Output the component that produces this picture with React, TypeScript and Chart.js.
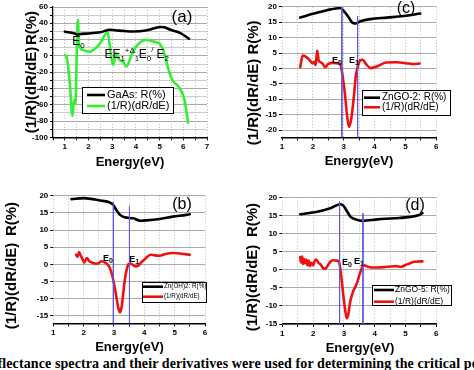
import React, { useEffect, useRef } from "react";
import { Chart, registerables } from "chart.js";

Chart.register(...registerables);

const FONT = "'Liberation Sans', Arial, sans-serif";

// ---------------- (a) GaAs ----------------
const aREnergy = [1.0, 1.2, 1.39, 1.53, 1.7, 2.0, 2.49, 2.91, 3.26, 3.6, 3.9, 4.47, 5.03, 5.2, 5.46, 5.88, 6.24];
const aRValue = [29.7, 28.8, 27.7, 26, 27, 27.5, 29, 32, 31, 30.3, 30, 31.5, 35.5, 35, 32, 28, 21];
const aDEnergy = [1.0, 1.05, 1.11, 1.21, 1.32, 1.39, 1.45, 1.5, 1.55, 1.6, 1.8, 2.0, 2.2, 2.5, 2.8, 2.9, 2.98, 3.05, 3.15, 3.3, 3.45, 3.6, 3.8, 4.0, 4.4, 4.75, 5.0, 5.2, 5.35, 5.5, 5.85, 6.05, 6.2];
const aDValue = [1, 0, -7, -33.7, -73.8, -54, -58, 0, 44, 13, 7, 5, 7, 16, 29, 12, -5, -11, 3.5, -5, -7, -13, 0, 11, 19.5, 17.5, 15, 3, -14, -27.5, -40, -54, -82];

// ---------------- (c) ZnGO-2 ----------------
const cREnergy = [1.59, 2.03, 2.46, 2.89, 3.0, 3.16, 3.27, 3.38, 3.54, 3.86, 4.4, 4.94, 5.48];
const cRValue = [16.5, 17.8, 18.9, 19.6, 18.7, 16.6, 14.9, 14.6, 15.3, 16, 16.5, 17, 17.8];
const cDEnergy = [1.59, 1.67, 1.81, 1.9, 2.0, 2.04, 2.09, 2.14, 2.19, 2.29, 2.4, 2.5, 2.66, 2.82, 2.9, 2.96, 3.04, 3.09, 3.17, 3.25, 3.33, 3.39, 3.44, 3.53, 3.61, 3.74, 3.87, 4.06, 4.38, 4.7, 5.03, 5.24, 5.46];
const cDValue = [0.4, 4.2, 3.5, 2.6, 1.6, 2.2, 1, 5.8, 2.6, 1.8, 0.4, 1.5, 1.8, 1.6, 1, -2.3, -8.3, -13.6, -19, -16, -9, -2.6, 0, 2.6, 2.8, 1.2, 0.1, 0.6, 1.9, 2, 1.7, 1.4, 1.6];
const cMarkerEnergy = [2.94, 3.45];
const cMarkerTop = [20, 17];

// ---------------- (b) Zn(OH)2 ----------------
const bREnergy = [1.6, 2.0, 2.55, 2.87, 2.98, 3.08, 3.2, 3.35, 3.64, 3.86, 4.07, 4.5, 4.94, 5.38, 5.5];
const bRValue = [19, 19.3, 18.6, 18, 17.3, 15.8, 14.4, 13.7, 13.4, 12.7, 12.8, 13.2, 13.9, 14.4, 14.6];
const bDEnergy = [1.75, 1.8, 1.85, 1.9, 1.95, 2.02, 2.1, 2.2, 2.3, 2.45, 2.6, 2.75, 2.85, 2.95, 3.05, 3.15, 3.2, 3.26, 3.35, 3.45, 3.52, 3.6, 3.7, 3.8, 3.9, 4.05, 4.2, 4.35, 4.5, 4.7, 4.9, 5.1, 5.3, 5.5];
const bDValue = [2.8, 2.2, 3.6, 2.6, 1.8, 0.5, 1.8, 0.8, 0.4, 0.2, 0.9, 0.2, -0.8, -3.5, -8, -13, -14, -12, -5, -0.5, 0.2, 0, -0.6, -0.4, 0.6, 1.8, 2.8, 2.6, 2.5, 3, 3.3, 3.2, 3, 2.8];
const bMarkerEnergy = [2.98, 3.51];
const bMarkerTop = [18.2, 16.8];

// ---------------- (d) ZnGO-5 ----------------
const dREnergy = [1.58, 2.13, 2.56, 2.89, 2.98, 3.11, 3.22, 3.38, 3.6, 4.09, 4.63, 5.17, 5.44, 5.55];
const dRValue = [15.3, 16, 17, 18.1, 17.7, 16, 14.6, 13.9, 13.5, 13.9, 14.2, 14.6, 15.1, 15.6];
const dDEnergy = [1.58, 1.61, 1.64, 1.67, 1.7, 1.74, 1.78, 1.82, 1.86, 1.9, 1.95, 2.0, 2.05, 2.1, 2.18, 2.25, 2.33, 2.4, 2.48, 2.56, 2.65, 2.75, 2.83, 2.88, 2.93, 2.98, 3.04, 3.09, 3.14, 3.2, 3.3, 3.42, 3.52, 3.6, 3.67, 3.75, 3.9, 4.1, 4.3, 4.5, 4.7, 4.85, 5.0, 5.15, 5.3, 5.55];
const dDValue = [3.5, 2, 3.6, 1.6, 3, 1.8, 2.8, 1.2, 2.5, 1, 1.9, 1.2, 2.4, 2.8, 1.8, 1.4, 0.4, 0.3, 1.2, 2.2, 2.6, 2.5, 2.3, 0.5, -3, -7, -11, -13.4, -12.5, -9, -6, -3.8, -1, 0.8, 1.2, 0.9, 0.6, 0.6, 0.7, 0.9, 1, 0.8, 1.3, 1.8, 2.2, 2.3];
const dMarkerEnergy = [2.86, 3.62];
const dMarkerTop = [18.8, 15.6];

// ---------------- tick labels ----------------
const aXLabels = [1, 2, 3, 4, 5, 6, 7];
const aYLabels = [60, 40, 20, 0, -20, -40, -60, -80, -100];
const xLabels = [1, 2, 3, 4, 5, 6];
const cYLabels = [20, 15, 10, 5, 0, -5, -10, -15, -20];
const bdYLabels = [20, 15, 10, 5, 0, -5, -10, -15];

// legend names
const aNames = ["GaAs: R(%)", "(1/R)(dR/dE)"];
const bNames = ["Zn(OH)2: R(%)", "(1/R)(dR/dE)"];
const cNames = ["ZnGO-2: R(%)", "(1/R)(dR/dE)"];
const dNames = ["ZnGO-5: R(%)", "(1/R)(dR/dE)"];

type Run = { t: string; size: number; dy?: number; bold?: boolean };
type Peak = { x: number; y: number; runs: Run[] };
type Series = { e: number[]; v: number[]; color: string; width: number };
type Spec = {
  box: number[];
  area: number[];
  xr: number[];
  yr: number[];
  xStep: number;
  yStep: number;
  xLab: number[];
  yLab: number[];
  yBorder: boolean;
  series: Series[];
  markers?: { e: number[]; top: number[] };
  names: string[];
  legendBox: number[];
  legendFont: number;
  sample: number[];
  rows: number[];
  textX: number;
  label: string;
  labelPos: number[];
  labelSize: number;
  yTitle: number[];
  xTitle: number[];
  peaks: Peak[];
};

const BLACK = "#000000";
const RED = "#ee1111";
const GREEN = "#33ee33";
const BLUE = "#5a5ae6";

const E = (x: number, y: number, sub: string, size = 9): Peak => ({
  x,
  y,
  runs: [
    { t: "E", size, bold: true },
    { t: sub, size: size - 2, dy: 2, bold: true },
  ],
});

const specs: Spec[] = [
  {
    box: [0, 0, 237, 178],
    area: [53, 7, 207, 137.3],
    xr: [0.5, 7],
    yr: [-100, 60],
    xStep: 0.5,
    yStep: 10,
    xLab: aXLabels,
    yLab: aYLabels,
    yBorder: true,
    series: [
      { e: aREnergy, v: aRValue, color: BLACK, width: 2.6 },
      { e: aDEnergy, v: aDValue, color: GREEN, width: 2.6 },
    ],
    names: aNames,
    legendBox: [82, 87, 173, 113],
    legendFont: 11,
    sample: [87, 105],
    rows: [95, 106],
    textX: 107,
    label: "(a)",
    labelPos: [182, 17],
    labelSize: 17,
    yTitle: [32, 28, 90],
    xTitle: [130, 162],
    peaks: [
      { x: 1.31, y: 13.3, runs: [{ t: "E", size: 12 }, { t: "0", size: 8, dy: 3 }] },
      {
        x: 2.67,
        y: -2.6,
        runs: [
          { t: "E", size: 12 },
          { t: "E", size: 12 },
          { t: "1", size: 8, dy: 3 },
          { t: "+Δ", size: 8, dy: -5 },
          { t: "1", size: 7, dy: 3 },
          { t: "E", size: 12 },
          { t: "0", size: 8, dy: 3 },
          { t: "/", size: 8, dy: -6 },
        ],
      },
      { x: 4.87, y: -2.6, runs: [{ t: "E", size: 12 }, { t: "2", size: 8, dy: 3 }] },
    ],
  },
  {
    box: [237, 0, 237, 178],
    area: [282, 6, 436.3, 137.4],
    xr: [1, 6],
    yr: [-22.4, 20],
    xStep: 0.5,
    yStep: 5,
    xLab: xLabels,
    yLab: cYLabels,
    yBorder: false,
    series: [
      { e: cREnergy, v: cRValue, color: BLACK, width: 2.6 },
      { e: cDEnergy, v: cDValue, color: RED, width: 2.6 },
    ],
    markers: { e: cMarkerEnergy, top: cMarkerTop },
    names: cNames,
    legendBox: [362, 90, 450, 115],
    legendFont: 10,
    sample: [364, 380],
    rows: [97.7, 107.3],
    textX: 382,
    label: "(c)",
    labelPos: [406, 9],
    labelSize: 16,
    yTitle: [254, 37.5, 102],
    xTitle: [359, 161.5],
    peaks: [E(2.62, 1.6, "0"), E(3.17, 1.6, "1")],
  },
  {
    box: [0, 178, 237, 178],
    area: [53.3, 195.7, 205, 323.3],
    xr: [1, 6],
    yr: [-17.2, 20],
    xStep: 0.5,
    yStep: 5,
    xLab: xLabels,
    yLab: bdYLabels,
    yBorder: false,
    series: [
      { e: bREnergy, v: bRValue, color: BLACK, width: 2.6 },
      { e: bDEnergy, v: bDValue, color: RED, width: 2.6 },
    ],
    markers: { e: bMarkerEnergy, top: bMarkerTop },
    names: bNames,
    legendBox: [142, 282, 206, 302],
    legendFont: 6.3,
    sample: [143, 163],
    rows: [286.7, 296.7],
    textX: 164,
    label: "(b)",
    labelPos: [182, 205],
    labelSize: 16,
    yTitle: [12, 219, 286],
    xTitle: [129.5, 347.5],
    peaks: [E(2.64, 0.96, "0"), E(3.5, 0.7, "1")],
  },
  {
    box: [237, 178, 237, 178],
    area: [282.3, 197.3, 436.3, 324],
    xr: [1, 6],
    yr: [-15, 20],
    xStep: 0.5,
    yStep: 5,
    xLab: xLabels,
    yLab: bdYLabels,
    yBorder: false,
    series: [
      { e: dREnergy, v: dRValue, color: BLACK, width: 2.6 },
      { e: dDEnergy, v: dDValue, color: RED, width: 2.6 },
    ],
    markers: { e: dMarkerEnergy, top: dMarkerTop },
    names: dNames,
    legendBox: [372, 285, 451, 305],
    legendFont: 8.5,
    sample: [374, 394],
    rows: [290, 301.7],
    textX: 395,
    label: "(d)",
    labelPos: [415, 206],
    labelSize: 16,
    yTitle: [253, 220, 288],
    xTitle: [360, 348],
    peaks: [E(2.94, 1.3, "0"), E(3.33, 1.6, "1")],
  },
];

function stepValues(min: number, max: number, step: number): number[] {
  const out: number[] = [];
  const start = Math.ceil(min / step - 1e-9);
  const end = Math.floor(max / step + 1e-9);
  for (let i = start; i <= end; i++) out.push(+(i * step).toFixed(4));
  return out;
}

function Panel({ s }: { s: Spec }) {
  const ref = useRef<HTMLCanvasElement | null>(null);
  useEffect(() => {
    const canvas = ref.current;
    if (!canvas) return;
    const [bl, bt, bw, bh] = s.box;
    const [al, at, ar, ab] = s.area;
    const px = (x: number) => x - bl;
    const py = (y: number) => y - bt;

    const overlay = {
      id: "overlay",
      beforeDatasetsDraw(chart: any) {
        const ctx = chart.ctx as CanvasRenderingContext2D;
        ctx.save();
        ctx.fillStyle = "#000";
        ctx.font = `${s.labelSize}px ${FONT}`;
        ctx.textAlign = "center";
        ctx.textBaseline = "middle";
        ctx.fillText(s.label, px(s.labelPos[0]), py(s.labelPos[1]));
        ctx.restore();
      },
      afterDatasetsDraw(chart: any) {
        const ctx = chart.ctx as CanvasRenderingContext2D;
        const xs = chart.scales.x;
        const ys = chart.scales.y;
        ctx.save();
        ctx.fillStyle = "#000";
        ctx.textBaseline = "alphabetic";
        ctx.textAlign = "left";
        for (const p of s.peaks) {
          let x = xs.getPixelForValue(p.x);
          const y = ys.getPixelForValue(p.y);
          for (const r of p.runs) {
            ctx.font = `${r.bold ? "bold " : ""}${r.size}px ${FONT}`;
            ctx.fillText(r.t, x, y + (r.dy || 0));
            x += ctx.measureText(r.t).width;
          }
        }
        const [ll, lt, lr, lb] = s.legendBox;
        ctx.fillStyle = "#fff";
        ctx.fillRect(px(ll), py(lt), lr - ll, lb - lt);
        ctx.strokeStyle = "#000";
        ctx.lineWidth = 1;
        ctx.strokeRect(px(ll) + 0.5, py(lt) + 0.5, lr - ll, lb - lt);
        ctx.font = `${s.legendFont}px ${FONT}`;
        ctx.textBaseline = "middle";
        ctx.fillStyle = "#000";
        s.series.forEach((ser, i) => {
          ctx.strokeStyle = ser.color;
          ctx.lineWidth = 2.6;
          ctx.beginPath();
          ctx.moveTo(px(s.sample[0]), py(s.rows[i]));
          ctx.lineTo(px(s.sample[1]), py(s.rows[i]));
          ctx.stroke();
          ctx.fillText(s.names[i], px(s.textX), py(s.rows[i]));
        });
        ctx.font = `bold 13px ${FONT}`;
        ctx.textAlign = "center";
        ctx.textBaseline = "middle";
        ctx.fillText("Energy(eV)", px(s.xTitle[0]), py(s.xTitle[1]));
        ctx.font = `bold 15px ${FONT}`;
        const drawV = (t: string, x: number, y: number) => {
          ctx.save();
          ctx.translate(px(x), py(y));
          ctx.rotate(-Math.PI / 2);
          ctx.fillText(t, 0, 0);
          ctx.restore();
        };
        drawV("R(%)", s.yTitle[0], s.yTitle[1]);
        drawV("(1/R)(dR/dE)", s.yTitle[0], s.yTitle[2]);
        ctx.restore();
      },
    };

    const datasets: any[] = s.series.map((ser) => ({
      data: ser.e.map((e, i) => ({ x: e, y: ser.v[i] })),
      borderColor: ser.color,
      borderWidth: ser.width,
      pointRadius: 0,
      fill: false,
      cubicInterpolationMode: "monotone",
      borderJoinStyle: "round",
      borderCapStyle: "round",
    }));
    if (s.markers) {
      s.markers.e.forEach((e, i) => {
        datasets.unshift({
          data: [
            { x: e, y: s.markers!.top[i] },
            { x: e, y: s.yr[0] },
          ],
          borderColor: BLUE,
          borderWidth: 1,
          pointRadius: 0,
          tension: 0,
          fill: false,
        });
      });
    }

    const xTicks = stepValues(s.xr[0], s.xr[1], s.xStep);
    const yTicks = stepValues(s.yr[0], s.yr[1], s.yStep);
    const tickFont = { family: FONT, size: 8, weight: "bold" as const };

    const chart = new Chart(canvas, {
      type: "line",
      data: { datasets },
      options: {
        animation: false,
        responsive: false,
        maintainAspectRatio: false,
        events: [],
        layout: { padding: { left: 0, top: at - bt, right: bl + bw - ar, bottom: 0 } },
        plugins: { legend: { display: false }, tooltip: { enabled: false } },
        scales: {
          x: {
            type: "linear",
            min: s.xr[0],
            max: s.xr[1],
            afterFit: (sc: any) => {
              sc.height = bt + bh - ab;
            },
            afterBuildTicks: (sc: any) => {
              sc.ticks = xTicks.map((v) => ({ value: v }));
            },
            ticks: {
              autoSkip: false,
              maxRotation: 0,
              padding: 2,
              color: "#000",
              font: tickFont,
              callback: (v: any) => (s.xLab.includes(Number(v)) ? String(v) : ""),
            },
            grid: { color: "#b8b8b8", lineWidth: 1, tickLength: 3, tickColor: "#000" },
            border: { display: true, color: "#000", width: 1.5, dash: [1, 2] },
          },
          y: {
            type: "linear",
            min: s.yr[0],
            max: s.yr[1],
            afterFit: (sc: any) => {
              sc.width = al - bl;
            },
            afterBuildTicks: (sc: any) => {
              sc.ticks = yTicks.map((v) => ({ value: v }));
            },
            ticks: {
              autoSkip: false,
              padding: 2,
              color: "#000",
              font: tickFont,
              callback: (v: any) => (s.yLab.includes(Number(v)) ? String(v) : ""),
            },
            grid: {
              color: (c: any) => (c.tick && s.yLab.includes(c.tick.value) ? "#aaaaaa" : s.yStep === 10 ? "#cccccc" : "rgba(0,0,0,0)"),
              lineWidth: 1,
              tickLength: 3,
              tickColor: "#000",
            },
            border: { display: s.yBorder, color: "#000", width: 1.2 },
          },
        },
      } as any,
      plugins: [overlay],
    });
    return () => chart.destroy();
  }, [s]);
  return (
    <canvas
      ref={ref}
      width={s.box[2]}
      height={s.box[3]}
      style={{ position: "absolute", left: s.box[0], top: s.box[1], width: s.box[2], height: s.box[3] }}
    />
  );
}

export default function App() {
  return (
    <div
      style={{
        position: "absolute",
        left: 0,
        top: 0,
        width: 474,
        height: 370,
        overflow: "hidden",
        background: "#fff",
      }}
    >
      {specs.map((s, i) => (
        <Panel key={i} s={s} />
      ))}
      <div
        style={{
          position: "absolute",
          left: -19,
          top: 356,
          whiteSpace: "nowrap",
          font: "bold 14px 'Liberation Serif', 'Times New Roman', serif",
          letterSpacing: "0.1px",
          color: "#000",
          lineHeight: "15px",
        }}
      >
        Reflectance spectra and their derivatives were used for determining the critical points
      </div>
    </div>
  );
}
